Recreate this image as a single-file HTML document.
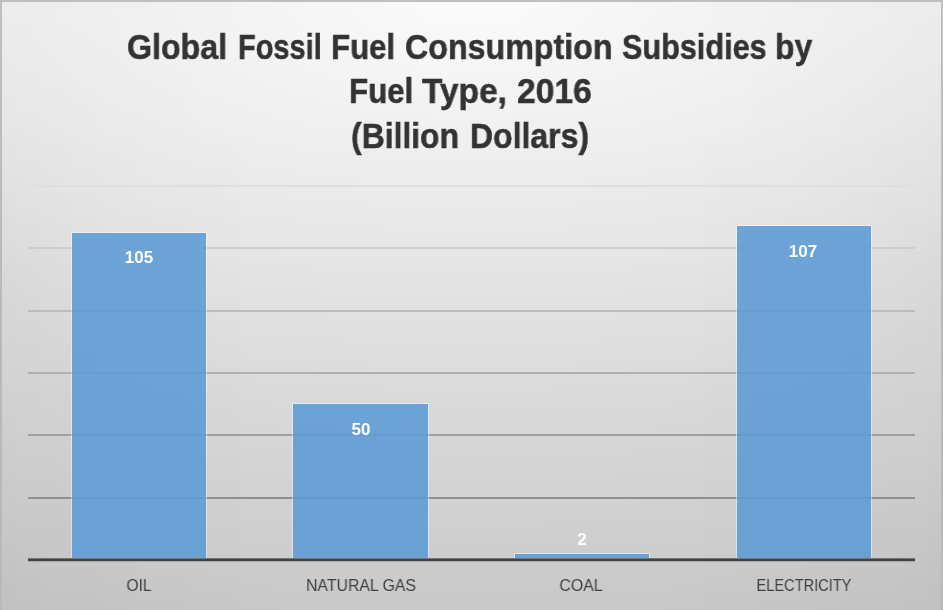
<!DOCTYPE html>
<html>
<head>
<meta charset="utf-8">
<style>
html,body{margin:0;padding:0;}
body{width:943px;height:610px;overflow:hidden;position:relative;font-family:"Liberation Sans",sans-serif;}
.w,.lab,.cat{will-change:transform;}
#bg{position:absolute;left:0;top:0;width:943px;height:610px;box-sizing:border-box;border:2px solid #bfbfbf;border-bottom:none;
background:radial-gradient(ellipse 1820px 700px at 50% 0%, #fbfbfb 0%, #c1c1c1 100%);}
#shade{position:absolute;left:0;top:0;width:943px;height:610px;
background:linear-gradient(to right, rgba(0,0,0,.026) 0%, rgba(0,0,0,.012) 12%, rgba(0,0,0,0) 28%, rgba(0,0,0,0) 72%, rgba(0,0,0,.012) 88%, rgba(0,0,0,.026) 100%);
-webkit-mask-image:linear-gradient(to bottom, transparent 0%, #000 45%, #000 100%);}
svg{position:absolute;left:0;top:0;}
.w{position:absolute;white-space:nowrap;color:#333333;font-weight:bold;font-size:35px;line-height:40px;transform-origin:0 0;-webkit-text-stroke:0.5px #333333;}
.lab{position:absolute;white-space:nowrap;color:#ffffff;font-weight:bold;font-size:17px;line-height:20px;text-align:center;width:100px;}
.cat{position:absolute;white-space:nowrap;color:#404040;font-size:16.5px;line-height:20px;text-align:center;width:200px;}
</style>
</head>
<body>
<div id="bg"></div>
<div id="shade"></div>
<svg width="943" height="610" viewBox="0 0 943 610">
  <g>
    <rect x="28" y="185" width="887" height="2" fill="#dfdfdf"/>
    <rect x="28" y="247" width="887" height="2" fill="#cecece"/>
    <rect x="28" y="310" width="887" height="2" fill="#bcbcbc"/>
    <rect x="28" y="372" width="887" height="2" fill="#afafaf"/>
    <rect x="28" y="434" width="887" height="2" fill="#a0a0a0"/>
    <rect x="28" y="497" width="887" height="2" fill="#8f8f8f"/>
  </g>
  <g fill="rgba(91,155,213,0.88)">
    <rect x="72" y="233" width="134" height="325"/>
    <rect x="293" y="404" width="135" height="154"/>
    <rect x="515" y="554" width="134" height="4"/>
    <rect x="737" y="226" width="134" height="332"/>
  </g>
  <g fill="none" stroke="rgba(255,255,255,0.42)" stroke-width="1">
    <path d="M71.5 558V232.5H206.5V558"/>
    <path d="M292.5 558V403.5H428.5V558"/>
    <path d="M514.5 558V553.5H649.5V558"/>
    <path d="M736.5 558V225.5H871.5V558"/>
  </g>
  <rect x="28" y="558" width="887" height="1" fill="#747474"/>
  <rect x="28" y="559" width="887" height="2" fill="#424242"/>
  <rect x="28" y="561" width="887" height="1" fill="#a8a8a8"/>
</svg>
<div class="w" style="left:127.28px;top:27px;transform:scaleX(0.919);">Global</div>
<div class="w" style="left:238.05px;top:27px;transform:scaleX(0.827);">Fossil</div>
<div class="w" style="left:331.42px;top:27px;transform:scaleX(0.891);">Fuel</div>
<div class="w" style="left:405.08px;top:27px;transform:scaleX(0.92);">Consumption</div>
<div class="w" style="left:622.03px;top:27px;transform:scaleX(0.875);">Subsidies</div>
<div class="w" style="left:774.88px;top:27px;transform:scaleX(0.91);">by</div>
<div class="w" style="left:349.21px;top:71px;transform:scaleX(0.893);">Fuel</div>
<div class="w" style="left:422.3px;top:71px;transform:scaleX(0.956);">Type,</div>
<div class="w" style="left:516.64px;top:71px;transform:scaleX(0.959);">2016</div>
<div class="w" style="left:351.48px;top:116px;transform:scaleX(0.911);">(Billion</div>
<div class="w" style="left:469.77px;top:116px;transform:scaleX(0.913);">Dollars)</div>
<div class="lab" style="left:89px;top:248px;">105</div>
<div class="lab" style="left:311px;top:420px;">50</div>
<div class="lab" style="left:532px;top:530px;">2</div>
<div class="lab" style="left:753.2px;top:242px;">107</div>
<div class="cat" style="left:39px;top:575px;transform:scaleX(0.95);">OIL</div>
<div class="cat" style="left:261px;top:575px;transform:scaleX(0.96);">NATURAL GAS</div>
<div class="cat" style="left:481.4px;top:575px;transform:scaleX(0.964);">COAL</div>
<div class="cat" style="left:703.6px;top:575px;transform:scaleX(0.885);">ELECTRICITY</div>
</body>
</html>
